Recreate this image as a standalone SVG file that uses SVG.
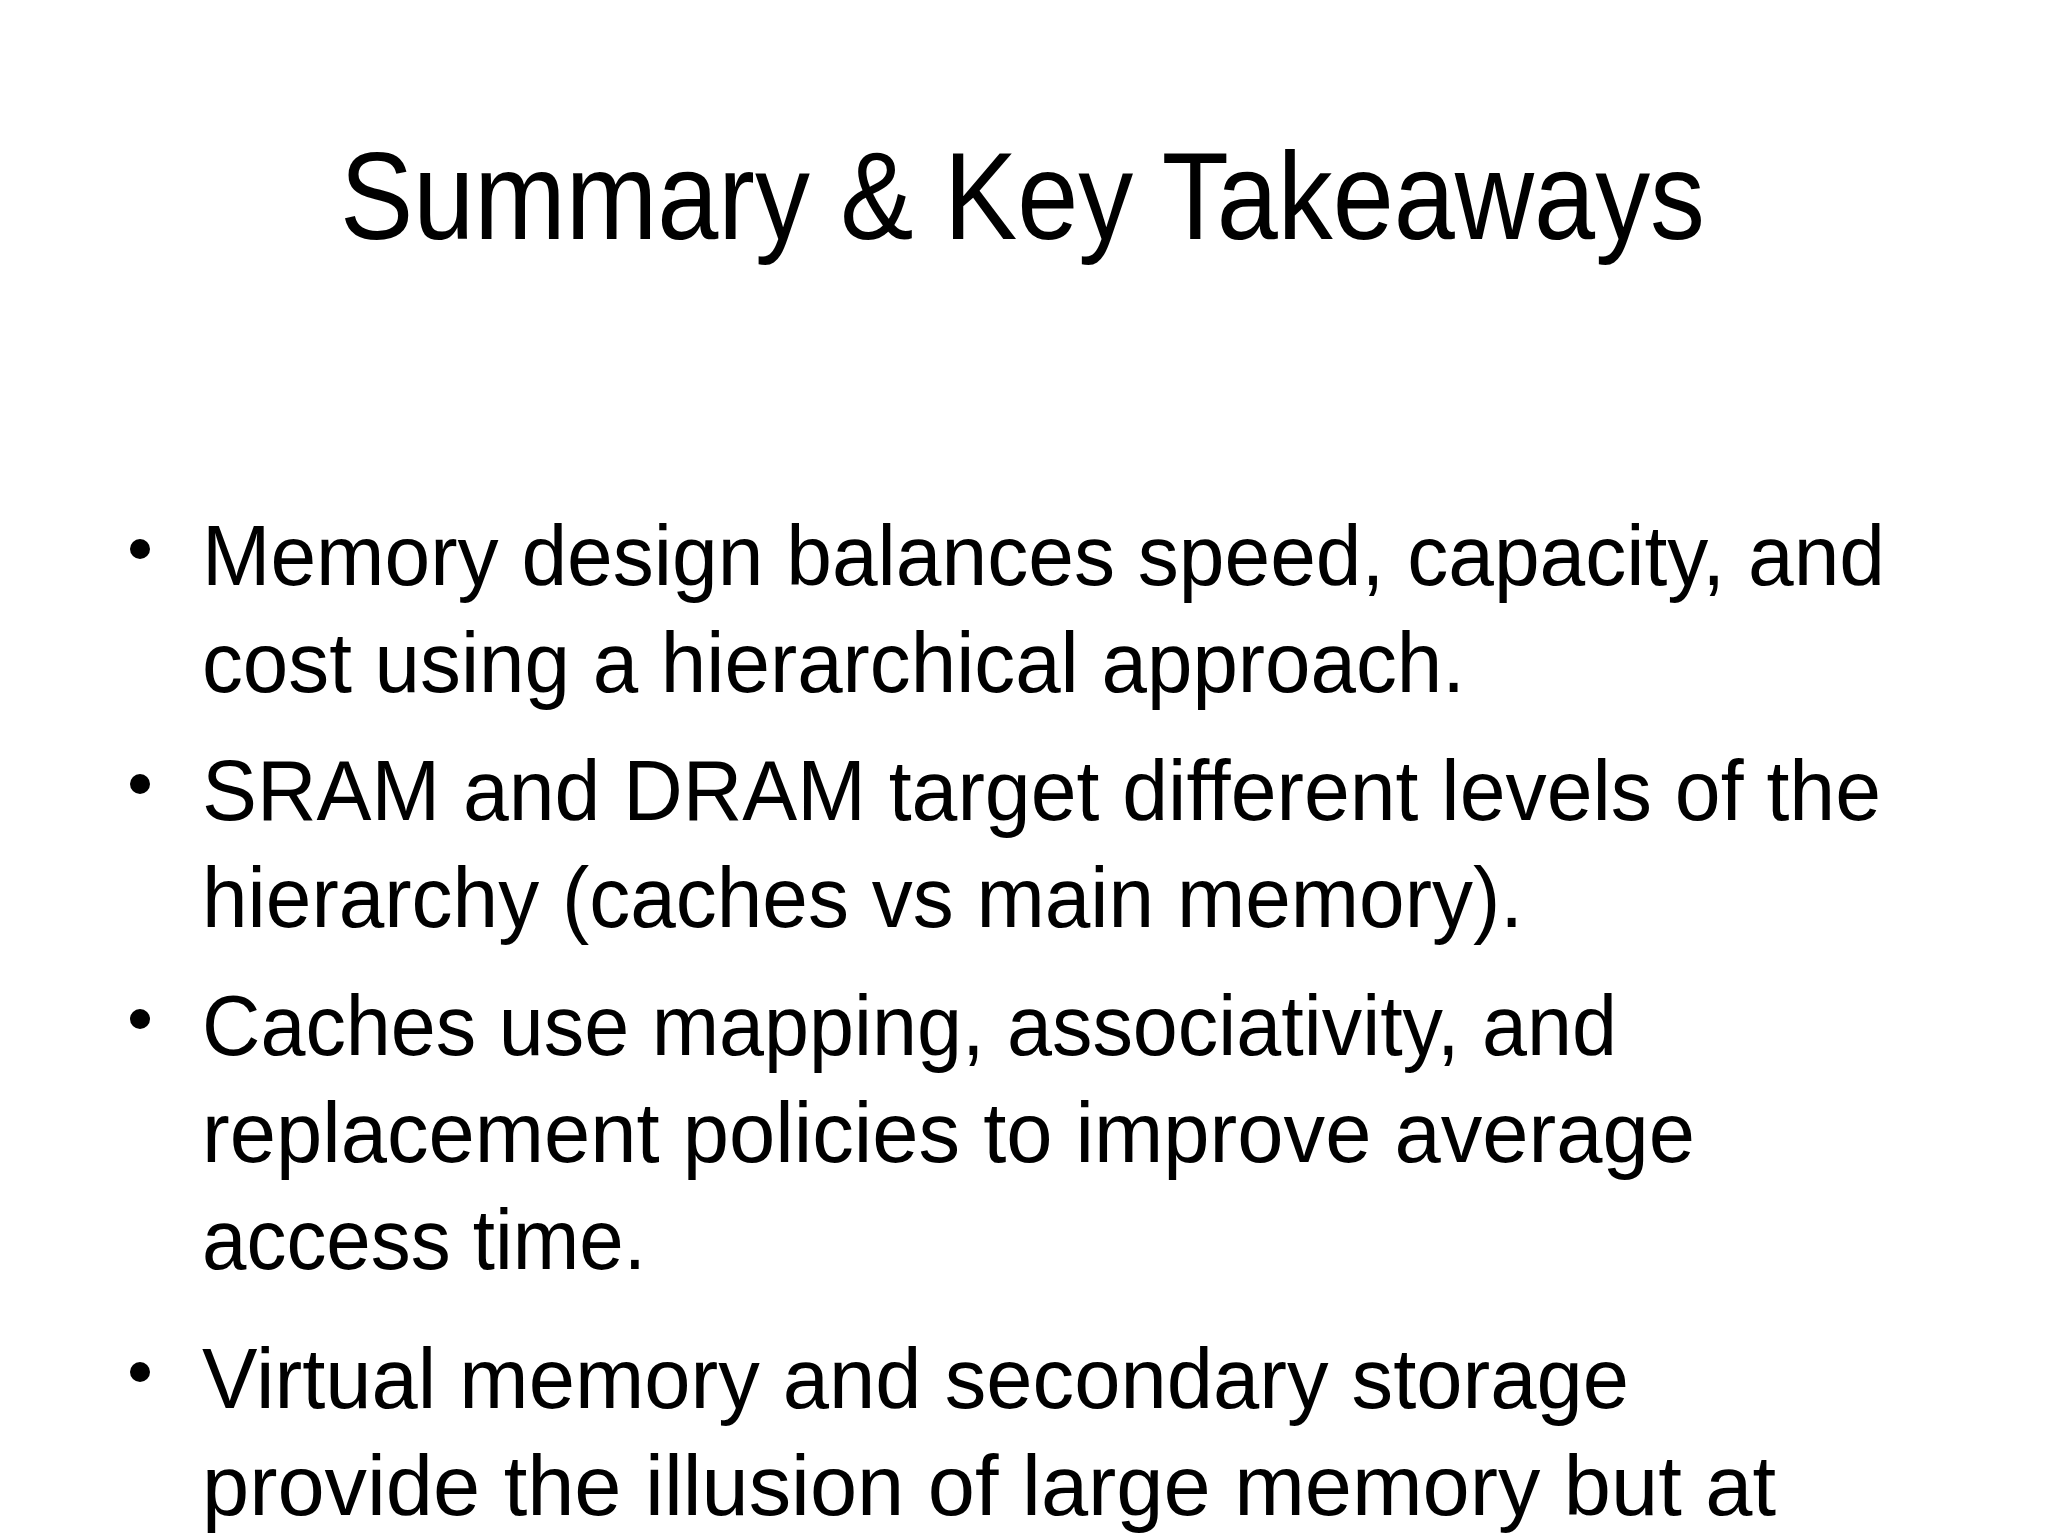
<svg xmlns="http://www.w3.org/2000/svg" width="2048" height="1536" viewBox="0 0 2048 1536">
<style>
text{font-family:"Liberation Sans","Open Sans",sans-serif;fill:#000}
.b{font-size:86px}
</style>
<rect width="2048" height="1536" fill="#fff"/>
<g id="title"><text x="340" y="239" font-size="124" textLength="1365" lengthAdjust="spacingAndGlyphs">Summary &amp; Key Takeaways</text></g>
<g id="body">
<circle cx="140" cy="549" r="10"/>
<circle cx="140" cy="784" r="10"/>
<circle cx="140" cy="1019" r="10"/>
<circle cx="140" cy="1372" r="10"/>
<text class="b" x="202" y="585" textLength="1683" lengthAdjust="spacingAndGlyphs">Memory design balances speed, capacity, and</text>
<text class="b" x="202" y="692" textLength="1263" lengthAdjust="spacingAndGlyphs">cost using a hierarchical approach.</text>
<text class="b" x="202" y="820" textLength="1679" lengthAdjust="spacingAndGlyphs">SRAM and DRAM target different levels of the</text>
<text class="b" x="202" y="927" textLength="1321" lengthAdjust="spacingAndGlyphs">hierarchy (caches vs main memory).</text>
<text class="b" x="202" y="1055" textLength="1415" lengthAdjust="spacingAndGlyphs">Caches use mapping, associativity, and</text>
<text class="b" x="202" y="1162" textLength="1493" lengthAdjust="spacingAndGlyphs">replacement policies to improve average</text>
<text class="b" x="202" y="1269" textLength="444" lengthAdjust="spacingAndGlyphs">access time.</text>
<text class="b" x="202" y="1408" textLength="1427" lengthAdjust="spacingAndGlyphs">Virtual memory and secondary storage</text>
<text class="b" x="202" y="1515" textLength="1574" lengthAdjust="spacingAndGlyphs">provide the illusion of large memory but at</text>
</g>
</svg>
